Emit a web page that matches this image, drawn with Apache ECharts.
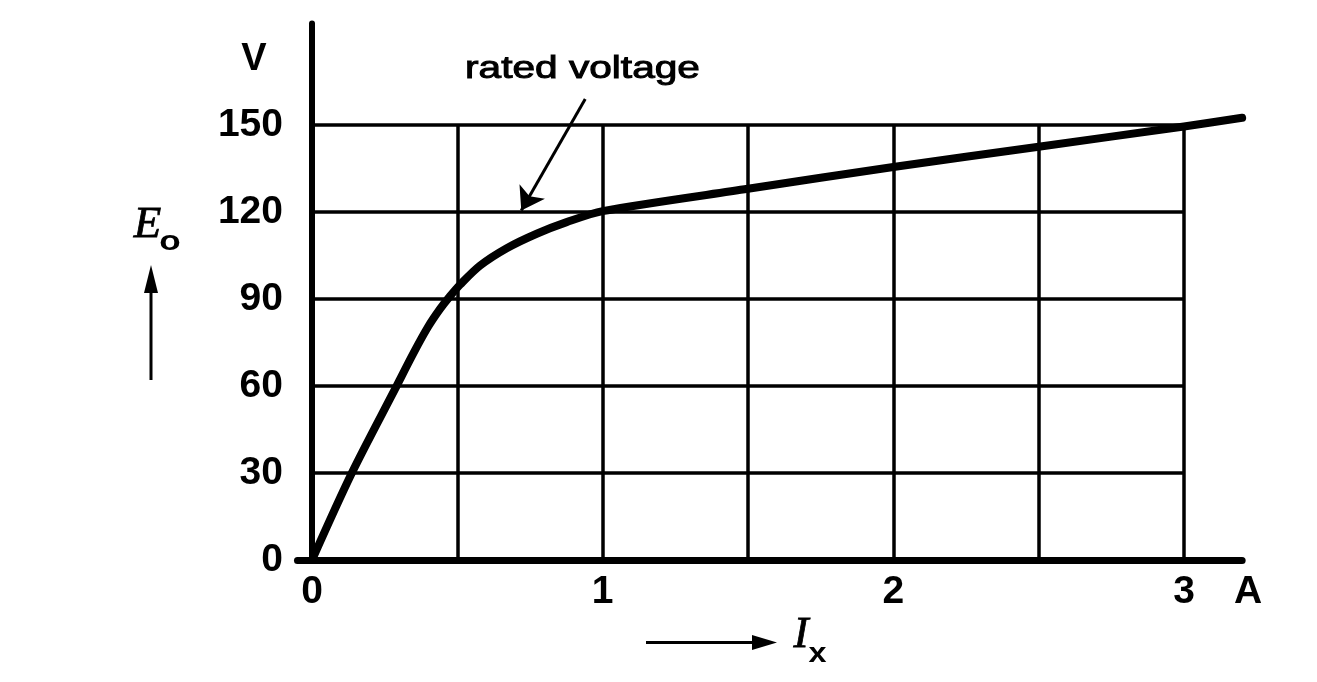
<!DOCTYPE html>
<html>
<head>
<meta charset="utf-8">
<script src="https://cdn.jsdelivr.net/npm/echarts@6/dist/echarts.min.js"></script>
<style>
  html, body { margin: 0; padding: 0; background: #ffffff; }
  #chart { width: 1317px; height: 682px; }
</style>
</head>
<body>
<div id="chart"></div>
<script>
// ---- data ----
const currentA = [0, 0.137, 0.286, 0.35, 0.40, 0.44, 0.475, 0.51, 0.578, 0.67, 0.773, 0.876, 1.0, 1.5, 2.0, 2.5, 3.0, 3.2];
const voltageV = [0, 30, 59, 71.5, 80.5, 86.5, 91, 95, 101.5, 107.5, 112.5, 116.5, 120.3, 128, 135.5, 142.5, 149.5, 152.5];
const xTickLabels = [0, 1, 2, 3];
const yTickValues = [0, 30, 60, 90, 120, 150];
const ratedArrowFrom = [0.94, 159];
const ratedArrowTo = [0.72, 120.5];

// ---- layout constants ----
const X0 = 312, Y0 = 560;
const PX_A = 872 / 3;      // pixels per ampere
const PX_V = 435 / 150;    // pixels per volt
const X_MAX = 3, Y_MAX = 150;
const X_EXT_MIN = -0.05, X_EXT_MAX = 3.2, Y_EXT_MAX = 185;

const curve = currentA.map((x, i) => [x, voltageV[i]]);

const chart = echarts.init(document.getElementById('chart'), null, { renderer: 'canvas' });
const labelFont = { fontFamily: 'Liberation Sans, Arial, sans-serif', fontWeight: 'bold', fontSize: 39, color: '#000' };

chart.setOption({
  animation: false,
  backgroundColor: '#ffffff',
  grid: [
    { left: X0, top: Y0 - Y_MAX * PX_V, width: X_MAX * PX_A, height: Y_MAX * PX_V },
    { left: X0 + X_EXT_MIN * PX_A, top: Y0 - Y_EXT_MAX * PX_V,
      width: (X_EXT_MAX - X_EXT_MIN) * PX_A, height: Y_EXT_MAX * PX_V }
  ],
  xAxis: [
    {
      gridIndex: 0, type: 'value', min: 0, max: X_MAX, interval: 0.5,
      axisLine: { show: false }, axisTick: { show: false },
      splitLine: { show: true, lineStyle: { color: '#000', width: 3.5 } },
      axisLabel: Object.assign({
        margin: 13,
        formatter: v => (xTickLabels.indexOf(v) >= 0 ? String(v) : '')
      }, labelFont)
    },
    {
      gridIndex: 1, type: 'value', min: X_EXT_MIN, max: X_EXT_MAX,
      axisLine: { show: true, onZero: true, lineStyle: { color: '#000', width: 7 } },
      axisTick: { show: false }, axisLabel: { show: false }, splitLine: { show: false }
    }
  ],
  yAxis: [
    {
      gridIndex: 0, type: 'value', min: 0, max: Y_MAX, interval: 30,
      axisLine: { show: false }, axisTick: { show: false },
      splitLine: { show: true, lineStyle: { color: '#000', width: 3.5 } },
      axisLabel: Object.assign({
        margin: 29,
        formatter: v => (yTickValues.indexOf(v) >= 0 ? String(v) : '')
      }, labelFont)
    },
    {
      gridIndex: 1, type: 'value', min: 0, max: Y_EXT_MAX,
      axisLine: { show: true, onZero: true, lineStyle: { color: '#000', width: 6 } },
      axisTick: { show: false }, axisLabel: { show: false }, splitLine: { show: false }
    }
  ],
  series: [
    {
      type: 'line',
      xAxisIndex: 1, yAxisIndex: 1,
      data: curve,
      showSymbol: false,
      smooth: 0.3,
      silent: true,
      lineStyle: { color: '#000', width: 8, cap: 'round', join: 'round' },
      markLine: {
        silent: true,
        symbol: ['none', 'arrow'],
        symbolSize: 22,
        label: { show: false },
        lineStyle: { color: '#000', width: 3, type: 'solid' },
        emphasis: { disabled: true },
        data: [[{ coord: ratedArrowFrom }, { coord: ratedArrowTo }]]
      }
    }
  ],
  graphic: [
    { type: 'text', x: 254, y: 60, silent: true,
      style: { text: 'V', font: 'bold 38px "Liberation Sans", Arial, sans-serif', fill: '#000', align: 'center', verticalAlign: 'middle' } },
    { type: 'text', x: 1248, y: 592, silent: true,
      style: { text: 'A', font: 'bold 39px "Liberation Sans", Arial, sans-serif', fill: '#000', align: 'center', verticalAlign: 'middle' } },
    { type: 'text', x: 465, y: 69, scaleX: 1.27, silent: true,
      style: { text: 'rated voltage', font: '32px "Liberation Sans", Arial, sans-serif', fill: '#000', stroke: '#000', lineWidth: 1, align: 'left', verticalAlign: 'middle' } },
    // E_o label with arrow
    { type: 'text', x: 147.5, y: 225, silent: true,
      style: { text: 'E', font: 'italic 45px "Liberation Serif", "Times New Roman", serif', fill: '#000', stroke: '#000', lineWidth: 0.8, align: 'center', verticalAlign: 'middle' } },
    { type: 'text', x: 170, y: 243, scaleX: 1.3, silent: true,
      style: { text: 'o', font: 'bold 27px "Liberation Sans", Arial, sans-serif', fill: '#000', align: 'center', verticalAlign: 'middle' } },
    { type: 'line', silent: true, shape: { x1: 151, y1: 380, x2: 151, y2: 288 }, style: { stroke: '#000', lineWidth: 3 } },
    { type: 'polygon', silent: true, shape: { points: [[151, 265], [144, 293], [158, 293]] }, style: { fill: '#000' } },
    // I_x label with arrow
    { type: 'text', x: 801, y: 635, silent: true,
      style: { text: 'I', font: 'italic 45px "Liberation Serif", "Times New Roman", serif', fill: '#000', stroke: '#000', lineWidth: 0.8, align: 'center', verticalAlign: 'middle' } },
    { type: 'text', x: 817.5, y: 655, scaleX: 1.2, silent: true,
      style: { text: 'x', font: 'bold 27px "Liberation Sans", Arial, sans-serif', fill: '#000', align: 'center', verticalAlign: 'middle' } },
    { type: 'line', silent: true, shape: { x1: 646, y1: 642.5, x2: 755, y2: 642.5 }, style: { stroke: '#000', lineWidth: 3 } },
    { type: 'polygon', silent: true, shape: { points: [[777, 642.5], [752, 635], [752, 650]] }, style: { fill: '#000' } }
  ]
});
</script>
</body>
</html>
